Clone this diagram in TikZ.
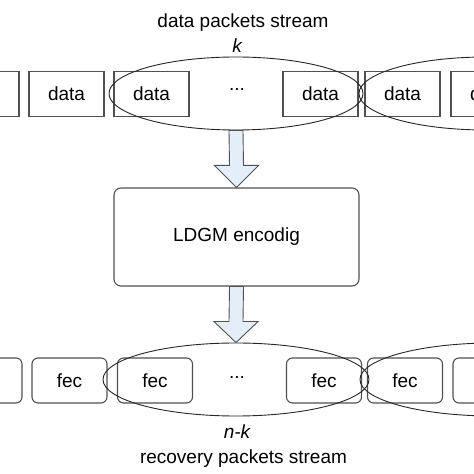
\documentclass[tikz,border=0pt]{standalone}
\usepackage{fontspec}
\setmainfont{Liberation Sans}
\usetikzlibrary{shapes.geometric,calc}

\definecolor{arrowblue}{HTML}{E4EEF8}
\definecolor{boxgray}{HTML}{505050}

\tikzset{
    databox/.style={draw=boxgray, line width=1.1pt, minimum width=75pt, minimum height=45pt, inner sep=0pt},
    fecbox/.style={databox, rounded corners=6pt},
    group/.style={draw=black!85, line width=0.9pt, ellipse, minimum height=73pt, inner sep=0pt},
    txt/.style={inner sep=0pt, font=\fontsize{19}{23}\selectfont},
    blockarrow/.style={draw=boxgray, line width=0.9pt, fill=arrowblue}
}

\newcommand{\bigarrow}[3]{%
    \draw[blockarrow] ($(#1)+(-7pt,0)$) -- ($(#2)+(-7pt,#3)$) -- ($(#2)+(-22pt,#3)$)
        -- (#2) -- ($(#2)+(22pt,#3)$) -- ($(#2)+(7pt,#3)$) -- ($(#1)+(7pt,0)$) -- cycle;}

\begin{document}
\begin{tikzpicture}[x=1pt,y=1pt]
    % Fix the page to the picture size
    \useasboundingbox (0,0) rectangle (474,474);
    \clip (0,0) rectangle (474,474);

    % Data packets row
    \node[databox] (d1) at (-18.5,380) {};
    \node[databox,txt] (d2) at (66.5,380) {data};
    \node[databox,txt] (d3) at (151.5,380) {data};
    \node[txt] (ddots) at (237,385) {...};
    \node[databox,txt] (d4) at (320.5,380) {data};
    \node[databox,txt] (d5) at (402.5,380) {data};
    \node[databox,txt] (d6) at (488.5,380) {data};

    % Groups of k packets
    \node[group, minimum width=254pt] (topell) at (236,380.5) {};
    \node[group, minimum width=254pt] (topell2) at (486,380.5) {};

    % Top labels
    \node[txt] (ttitle) at (243,451) {data packets stream};
    \node[txt] (tk) at (237,428) {\itshape k};

    % Encoder
    \node[draw=boxgray, line width=1.1pt, rounded corners=7pt, minimum width=245pt,
          minimum height=98pt, txt] (enc) at (236.5,237) {LDGM encodig};

    % Recovery packets row
    \node[fecbox] (f1) at (-15.5,93.5) {};
    \node[fecbox,txt] (f2) at (69.5,93.5) {fec};
    \node[fecbox,txt] (f3) at (155,93.5) {fec};
    \node[txt] (fdots) at (237,97) {...};
    \node[fecbox,txt] (f4) at (324,93.5) {fec};
    \node[fecbox,txt] (f5) at (405,93.5) {fec};
    \node[fecbox] (f6) at (490.5,93.5) {};

    % Groups of n-k packets
    \node[group, minimum width=266pt] (botell) at (236,94.5) {};
    \node[group, minimum width=266pt] (botell2) at (493,94.5) {};

    % Bottom labels
    \node[txt] (bnk) at (237,42) {\itshape n-k};
    \node[txt] (btitle) at (243.5,15) {recovery packets stream};

    % Block arrows
    \bigarrow{topell.south}{enc.north}{22pt}
    \bigarrow{enc.south}{botell.north}{21pt}
\end{tikzpicture}
\end{document}
